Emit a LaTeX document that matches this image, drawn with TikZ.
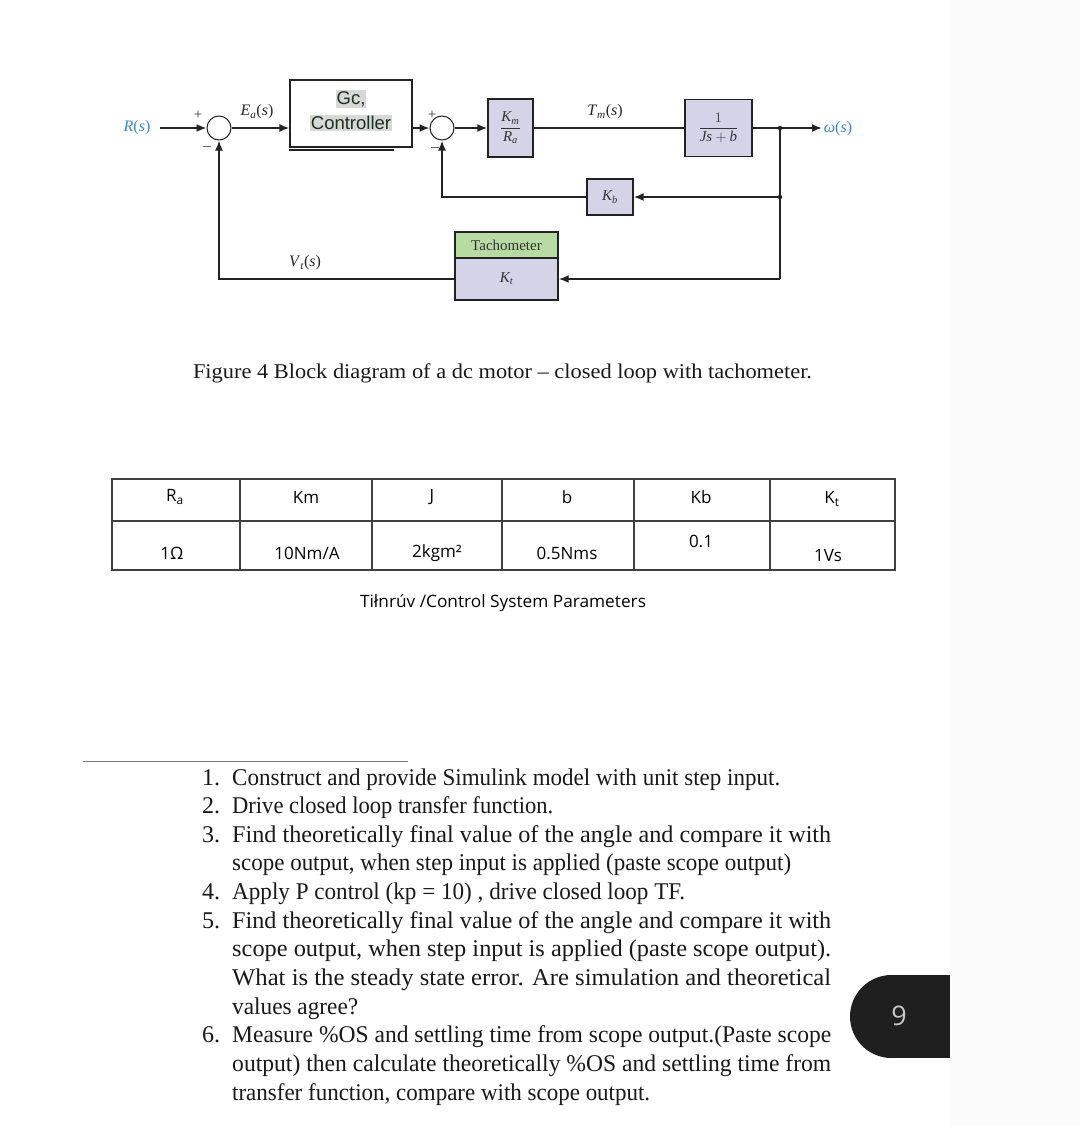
\documentclass[tikz,border=0pt]{standalone}
\usepackage{fontspec}
\usepackage{graphicx}
\usepackage{amsmath}
\setmainfont{Liberation Serif}
\newfontfamily\tabfont{Open Sans}
\newfontfamily\ctrlfont{Liberation Sans}
\usetikzlibrary{arrows.meta,calc}
\definecolor{lav}{HTML}{D5D3E8}
\definecolor{tgreen}{HTML}{B7DBA3}
\definecolor{sigblue}{HTML}{3C86C6}
\definecolor{ln}{HTML}{222222}
\definecolor{ctrlgreen}{HTML}{1A3320}
\definecolor{hlgray}{HTML}{D8D8D8}
\newlength\natw
\newcommand\fitto[2]{\settowidth\natw{#2}\pgfmathsetmacro\fitf{#1/\natw}\scalebox{\fitf}[1]{#2}}
\newcommand\iv[1]{\textit{#1}}
\begin{document}
\begin{tikzpicture}[x=1pt,y=-1pt,
  sig/.style={draw=ln,line width=1.8pt},
  arr/.style={sig,-{Latex[length=10pt,width=8pt]}},
  blk/.style={draw=ln,line width=1.4pt,fill=lav,inner sep=0pt,font=\fontsize{15}{16}\selectfont,text=black!80},
  sumj/.style={circle,draw=ln,line width=1pt,fill=white,minimum size=24pt,inner sep=0pt},
  lbl/.style={font=\fontsize{16}{18}\selectfont,inner sep=0pt,text=black!85},
  sgn/.style={font=\fontsize{15}{16}\selectfont,inner sep=0pt,text=black!80},
  ctrltxt/.style={font=\ctrlfont\fontsize{18.5}{20}\selectfont,text=ctrlgreen,fill=hlgray,inner sep=1pt},
  cell/.style={font=\tabfont\fontsize{17}{19}\selectfont,inner sep=0pt,text=black},
  tabln/.style={draw=black!75,line width=1.5pt},
  num/.style={anchor=base west,inner sep=0pt,font=\fontsize{24}{28}\selectfont,text=black!90},
  itm/.style={anchor=base west,inner sep=0pt,font=\fontsize{24}{28}\selectfont,text=black!90},
]
\useasboundingbox (0,0) rectangle (1080,1125);
\fill[white] (0,0) rectangle (1080,1125);
\fill[black!1.5] (950,0) rectangle (1080,1125);

% ---------- block diagram ----------
\node[sumj] (s1) at (219,128) {};
\node[sumj] (s2) at (442,128) {};
\node[draw=ln,line width=1.2pt,fill=white,minimum width=122pt,minimum height=67pt,inner sep=0pt] (ctrl) at (351,113.5) {};
\draw[ln,line width=1.6pt] ($(ctrl.south west)+(0,2.5)$) -- ++(105,0);
\node[ctrltxt] (gc) at (351,99) {Gc,};
\node[ctrltxt] (ctl) at (351,123) {Controller};
\node[blk,minimum width=45pt,minimum height=58pt] (kmra) at (510.5,128) {$\displaystyle\frac{\iv{K}_{\iv{m}}}{\iv{R}_{\iv{a}}}$};
\node[blk,minimum width=67pt,minimum height=57pt] (plant) at (718.5,128) {$\displaystyle\frac{1}{\iv{Js}+\iv{b}}$};
\node[blk,minimum width=46pt,minimum height=36pt] (kb) at (610,197) {$\iv{K}_{\iv{b}}$};
\node[blk,fill=tgreen,minimum width=103pt,minimum height=26pt,font=\fontsize{15}{16}\selectfont] (tacht) at (506.5,245) {Tachometer};
\node[blk,minimum width=103pt,minimum height=42pt] (tachk) at (506.5,279) {$\iv{K}_{\iv{t}}$};

\coordinate (rin) at (160,128);
\coordinate (wout) at (822,128);
\coordinate (br) at (780,128);
\coordinate (brk) at (780,197);
\coordinate (brt) at (780,279);

\draw[arr] (rin) -- (s1);
\draw[arr] (s1) -- (s1 -| ctrl.west);
\draw[arr] (s1 -| ctrl.east) -- (s2);
\draw[arr] (s2) -- (kmra);
\draw[draw=ln,line width=1.2pt] (kmra) -- (plant);
\draw[arr] (plant) -- (wout);
\draw[sig] (br) -- (brt);
\draw[arr] (brk) -- (kb);
\draw[arr] (kb) -| (s2);
\draw[arr] (brt) -- (tachk);
\draw[arr] (tachk) -| (s1);
\fill[ln] (br) circle[radius=2.2pt];
\fill[ln] (brk) circle[radius=2.2pt];

\node[lbl,text=sigblue] (rl) at (137,128) {\iv{R}(\iv{s})};
\node[lbl,text=sigblue] (wl) at (838,129) {\iv{ω}(\iv{s})};
\node[lbl] (eal) at (257,112) {\iv{E}$_{\iv{a}}$(\iv{s})};
\node[lbl] (tml) at (605,112) {\iv{T}$_{\iv{m}}$(\iv{s})};
\node[lbl] (vtl) at (305,263) {\iv{V}$_{\iv{t}}$(\iv{s})};
\node[sgn] (p1) at (198,115) {+};
\node[sgn] (m1) at (207,149) {–};
\node[sgn] (p2) at (432,115) {+};
\node[sgn] (m2) at (435,150) {–};

% ---------- caption ----------
\node[anchor=base,inner sep=0pt,font=\fontsize{21}{24}\selectfont,text=black!90] (cap) at (502.5,378) {\fitto{619pt}{Figure 4 Block diagram of a dc motor – closed loop with tachometer.}};

% ---------- table ----------
\draw[tabln] (112,479) rectangle (895,570);
\draw[tabln] (112,521) -- (895,521);
\foreach \x in {240,372,502,634,770} \draw[tabln] (\x,479) -- (\x,570);
\node[cell] (h1) at (175,497) {R\textsubscript{a}};
\node[cell] (h2) at (306,497) {Km};
\node[cell] (h3) at (432,497) {J};
\node[cell] (h4) at (567,497) {b};
\node[cell] (h5) at (701,497) {Kb};
\node[cell] (h6) at (832,499) {K\textsubscript{t}};
\node[cell] (v1) at (172,553) {1Ω};
\node[cell] (v2) at (307,553) {10Nm/A};
\node[cell] (v3) at (437,553) {2kgm²};
\node[cell] (v4) at (567,553) {0.5Nms};
\node[cell] (v5) at (701,541) {0.1};
\node[cell] (v6) at (828,556) {1Vs};
\node[cell] (tcap) at (503,603) {\fitto{286pt}{Tiłnrúv /Control System Parameters}};

% ---------- questions ----------
\draw[black!55,line width=1pt] (83,761) -- (408,761);
\node[num] (n1) at (202,785) {1.};
\node[itm] (l1) at (232,785) {\fitto{548pt}{Construct and provide Simulink model with unit step input.}};
\node[num] (n2) at (202,813.6) {2.};
\node[itm] (l2) at (232,813.6) {\fitto{321pt}{Drive closed loop transfer function.}};
\node[num] (n3) at (202,842.3) {3.};
\node[itm] (l3a) at (232,842.3) {\fitto{599pt}{Find theoretically final value of the angle and compare it with}};
\node[itm] (l3b) at (232,870.9) {\fitto{559pt}{scope output, when step input is applied (paste scope output)}};
\node[num] (n4) at (202,899.6) {4.};
\node[itm] (l4) at (232,899.6) {\fitto{453pt}{Apply P control (kp = 10) , drive closed loop TF.}};
\node[num] (n5) at (202,928.2) {5.};
\node[itm] (l5a) at (232,928.2) {\fitto{599pt}{Find theoretically final value of the angle and compare it with}};
\node[itm] (l5b) at (232,956.9) {\fitto{599pt}{scope output, when step input is applied (paste scope output).}};
\node[itm] (l5c) at (232,985.5) {\fitto{599pt}{What is the steady state error. Are simulation and theoretical}};
\node[itm] (l5d) at (232,1014.2) {\fitto{126pt}{values agree?}};
\node[num] (n6) at (202,1042.8) {6.};
\node[itm] (l6a) at (232,1042.8) {\fitto{599pt}{Measure \%OS and settling time from scope output.(Paste scope}};
\node[itm] (l6b) at (232,1071.5) {\fitto{599pt}{output) then calculate theoretically \%OS and settling time from}};
\node[itm] (l6c) at (232,1100.1) {\fitto{418pt}{transfer function, compare with scope output.}};

% ---------- page badge ----------
\fill[black!88] (891.5,1016.5) circle[radius=41.5pt];
\fill[black!88] (891.5,975) rectangle (950,1058);
\node[font=\tabfont\fontsize{27}{30}\selectfont,text=black!22,inner sep=0pt] (pg) at (899,1016) {9};
\end{tikzpicture}
\end{document}
